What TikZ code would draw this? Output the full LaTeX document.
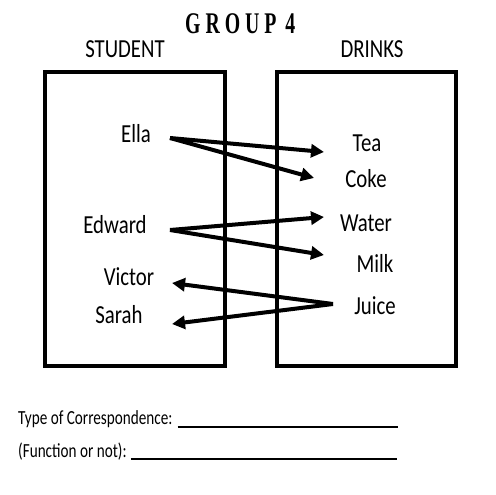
\documentclass[tikz,border=0pt]{standalone}
\usepackage{fontspec}
\usepackage{graphicx}
\setmainfont{Carlito}
\newfontfamily\titlefont[LetterSpace=25]{Liberation Serif}
\usetikzlibrary{arrows.meta}
\newcommand{\hsq}[1]{\scalebox{0.8}[1]{#1}}
\newcommand{\fsq}[1]{\scalebox{0.76}[1]{#1}}
\tikzset{
  lbl/.style={anchor=base, inner sep=0pt, font=\fontsize{26}{30}\selectfont},
  hdr/.style={anchor=base, inner sep=0pt, font=\fontsize{26}{30}\selectfont},
  foot/.style={anchor=base west, inner sep=0pt, font=\fontsize{20}{24}\selectfont},
  setbox/.style={draw=black, line width=4pt},
  map/.style={line width=4pt, -{Triangle[length=13pt,width=13pt]}},
  blank/.style={line width=1.4pt}
}
\begin{document}
\begin{tikzpicture}[x=1pt,y=-1pt]
\useasboundingbox (0,0) rectangle (495,495);
\fill[white] (0,0) rectangle (495,495);
% title and headers
\node[anchor=base west, inner sep=0pt] (title) at (185,34) {\scalebox{0.66}[1]{\titlefont\bfseries\fontsize{30}{34}\selectfont GROUP\hspace{0.45em}4}};
\node[hdr] (student) at (125,58) {\hsq{STUDENT}};
\node[hdr] (drinks) at (372,57) {\hsq{DRINKS}};
% boxes
\node[setbox, minimum width=180pt, minimum height=294pt, inner sep=0pt] (sbox) at (135,219) {};
\node[setbox, minimum width=179pt, minimum height=294pt, inner sep=0pt] (dbox) at (366.5,219) {};
% domain
\node[lbl] (ella) at (136,142) {\hsq{Ella}};
\node[lbl] (edward) at (115,233) {\hsq{Edward}};
\node[lbl] (victor) at (129,285) {\hsq{Victor}};
\node[lbl] (sarah) at (119,323) {\hsq{Sarah}};
% range
\node[lbl] (tea) at (367,151) {\hsq{Tea}};
\node[lbl] (coke) at (366,187) {\hsq{Coke}};
\node[lbl] (water) at (366,231) {\hsq{Water}};
\node[lbl] (milk) at (375,272) {\hsq{Milk}};
\node[lbl] (juice) at (375,314) {\hsq{Juice}};
% arrow end points
\coordinate (ellaR) at (170,138);
\coordinate (edwardR) at (170,230);
\coordinate (victorR) at (172,283);
\coordinate (sarahR) at (172,324);
\coordinate (teaL) at (324,152);
\coordinate (cokeL) at (314,178);
\coordinate (waterL) at (324,217);
\coordinate (milkL) at (324,255);
\coordinate (juiceL) at (333,304);
\draw[map] (ellaR) -- (teaL);
\draw[map] (ellaR) -- (cokeL);
\draw[map] (edwardR) -- (waterL);
\draw[map] (edwardR) -- (milkL);
\draw[map] (juiceL) -- (victorR);
\draw[map] (juiceL) -- (sarahR);
% footer
\node[foot] (type) at (18,424) {\fsq{Type of Correspondence:}};
\node[foot] (func) at (18,457) {\fsq{(Function or not):}};
\coordinate (typeEnd) at (398,427);
\coordinate (funcEnd) at (397,459);
\draw[blank] ([xshift=5pt,yshift=-3pt]type.base east) -- (typeEnd);
\draw[blank] ([xshift=4pt,yshift=-2pt]func.base east) -- (funcEnd);
\end{tikzpicture}
\end{document}
